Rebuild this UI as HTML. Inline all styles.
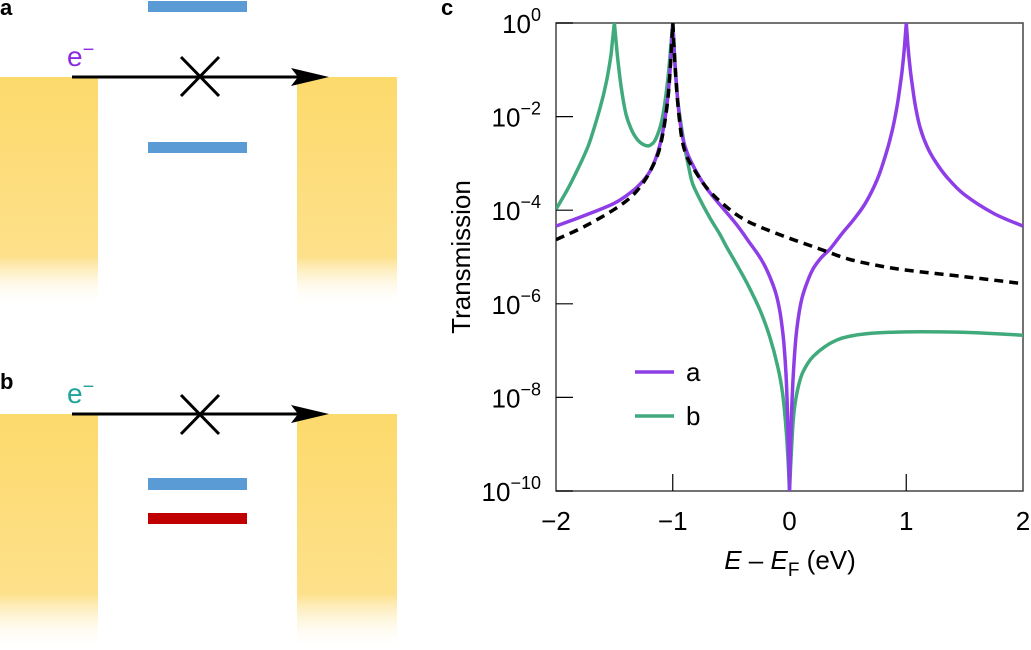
<!DOCTYPE html>
<html><head><meta charset="utf-8"><style>
html,body{margin:0;padding:0;background:#fff;width:1031px;height:650px;overflow:hidden}
svg{display:block;font-family:"Liberation Sans",Arial,sans-serif}
</style></head><body>
<svg width="1031" height="650" viewBox="0 0 1031 650">
<defs>
<linearGradient id="ya" x1="0" y1="0" x2="0" y2="1">
<stop offset="0" stop-color="#fdda6c"/><stop offset="0.78" stop-color="#fde08a"/><stop offset="1" stop-color="#fff" stop-opacity="0"/></linearGradient>
<linearGradient id="yb" x1="0" y1="0" x2="0" y2="1">
<stop offset="0" stop-color="#fdda6c"/><stop offset="0.76" stop-color="#fde08a"/><stop offset="1" stop-color="#fff" stop-opacity="0"/></linearGradient>
</defs>
<g>
<text x="0" y="15" font-size="22" font-weight="bold">a</text>
<rect x="0" y="77" width="98" height="230" fill="url(#ya)"/>
<rect x="297" y="77" width="100" height="230" fill="url(#ya)"/>
<rect x="148" y="1" width="99" height="11" fill="#5b9bd5"/>
<rect x="148" y="142" width="99" height="11" fill="#5b9bd5"/>
<line x1="72" y1="77" x2="300" y2="77" stroke="#000" stroke-width="3"/>
<polygon points="329,77 291,68 298,77 291,86" fill="#000"/>
<path d="M181,57 L219,96 M219,57 L181,96" stroke="#000" stroke-width="3"/>
<text x="67" y="66" font-size="28" fill="#8b2be2">e<tspan dy="-10" font-size="20">−</tspan></text>
</g>
<g>
<text x="0" y="389" font-size="22" font-weight="bold">b</text>
<rect x="0" y="414" width="98" height="236" fill="url(#yb)"/>
<rect x="297" y="414" width="100" height="236" fill="url(#yb)"/>
<rect x="148" y="478" width="99" height="12" fill="#5b9bd5"/>
<rect x="148" y="513" width="99" height="11" fill="#c00000"/>
<line x1="72" y1="414" x2="300" y2="414" stroke="#000" stroke-width="3"/>
<polygon points="329,414 291,405 298,414 291,423" fill="#000"/>
<path d="M181,395 L219,434 M219,395 L181,434" stroke="#000" stroke-width="3"/>
<text x="67" y="403" font-size="28" fill="#1fa39a">e<tspan dy="-10" font-size="20">−</tspan></text>
</g>
<text x="441" y="15" font-size="22" font-weight="bold">c</text>
<g id="chart"></g>
</svg>
<script>
const xTicks=[-2,-1,0,1,2];
const xTickLabels=["−2","−1","0","1","2"];
const yTicks=[0,-2,-4,-6,-8,-10];
const yTickLabels=["0","−2","−4","−6","−8","−10"];
const xA=[-2,-1.75,-1.5,-1.35,-1.25,-1.18,-1.12,-1.08,-1.05,-1.03,-1.015,-1,-0.985,-0.97,-0.95,-0.92,-0.88,-0.85,-0.77,-0.68,-0.535,-0.44,-0.34,-0.26,-0.19,-0.12,-0.08,-0.05,-0.03,-0.015,0,0.015,0.035,0.06,0.1,0.15,0.2,0.27,0.35,0.45,0.55,0.65,0.75,0.82,0.88,0.92,0.95,0.97,0.985,1,1.015,1.03,1.05,1.08,1.12,1.18,1.25,1.35,1.5,1.75,2];
const logA=[-4.34,-4.11,-3.85,-3.6,-3.36,-3.1,-2.7,-2.25,-1.75,-1.25,-0.7,0,-0.7,-1.25,-1.85,-2.4,-2.75,-2.93,-3.3,-3.63,-4.06,-4.35,-4.7,-4.98,-5.3,-5.75,-6.2,-6.8,-7.5,-8.5,-10,-8.5,-7.4,-6.6,-5.95,-5.55,-5.26,-5.02,-4.82,-4.5,-4.2,-3.85,-3.35,-2.85,-2.3,-1.8,-1.3,-0.9,-0.5,0,-0.5,-0.9,-1.3,-1.8,-2.25,-2.65,-2.96,-3.3,-3.67,-4.07,-4.34];
const xB=[-2,-1.9,-1.8,-1.72,-1.65,-1.6,-1.56,-1.53,-1.515,-1.5,-1.485,-1.47,-1.44,-1.4,-1.35,-1.3,-1.25,-1.2,-1.15,-1.1,-1.07,-1.04,-1.02,-1.008,-1,-0.99,-0.975,-0.955,-0.93,-0.9,-0.86,-0.827,-0.75,-0.68,-0.6,-0.535,-0.45,-0.36,-0.25,-0.17,-0.1,-0.06,-0.035,-0.015,0,0.015,0.035,0.06,0.1,0.15,0.2,0.3,0.4,0.5,0.7,1,1.3,1.6,2];
const logB=[-3.98,-3.55,-3.05,-2.6,-2.05,-1.6,-1.15,-0.7,-0.35,0,-0.4,-0.8,-1.4,-1.95,-2.3,-2.5,-2.6,-2.62,-2.5,-2.15,-1.75,-1.15,-0.6,-0.25,0,-0.45,-1.15,-1.7,-2.15,-2.62,-3.12,-3.45,-3.85,-4.17,-4.5,-4.8,-5.17,-5.58,-6.15,-6.7,-7.35,-7.9,-8.5,-9.2,-10,-9.2,-8.4,-7.95,-7.55,-7.3,-7.13,-6.92,-6.78,-6.7,-6.63,-6.6,-6.6,-6.62,-6.67];
const xD=[-2,-1.75,-1.5,-1.35,-1.25,-1.18,-1.12,-1.08,-1.05,-1.03,-1.015,-1,-0.985,-0.97,-0.95,-0.92,-0.88,-0.83,-0.7,-0.54,-0.4,-0.25,0,0.25,0.5,0.75,1,1.5,2];
const logD=[-4.63,-4.34,-3.98,-3.7,-3.4,-3.1,-2.75,-2.3,-1.8,-1.3,-0.7,0,-0.7,-1.3,-1.9,-2.5,-2.85,-3.08,-3.55,-3.93,-4.18,-4.36,-4.6,-4.82,-5.04,-5.18,-5.28,-5.42,-5.57];

const L=556,R=1023,T=23,B=491;
const sx=v=>L+(v+2)/4*(R-L);
const sy=v=>T+(0-v)/10*(B-T);
const NS="http://www.w3.org/2000/svg";
const g=document.getElementById('chart');
function mk(t,a){const e=document.createElementNS(NS,t);for(const k in a)e.setAttribute(k,a[k]);g.appendChild(e);return e;}
function pathFrom(xs,ys){
  const p=xs.map((x,i)=>[sx(x),sy(ys[i])]);
  let d="M"+p[0][0].toFixed(1)+","+p[0][1].toFixed(1);
  for(let i=0;i<p.length-1;i++){
    const p0=p[Math.max(0,i-1)],p1=p[i],p2=p[i+1],p3=p[Math.min(p.length-1,i+2)];
    const t=1/6;
    let c1=[p1[0]+(p2[0]-p0[0])*t,p1[1]+(p2[1]-p0[1])*t];
    let c2=[p2[0]-(p3[0]-p1[0])*t,p2[1]-(p3[1]-p1[1])*t];
    if(ys[i]===0||ys[i]===-10)c1=[p1[0]+(p2[0]-p1[0])*0.3,p1[1]+(p2[1]-p1[1])*0.3];
    if(ys[i+1]===0||ys[i+1]===-10)c2=[p2[0]-(p2[0]-p1[0])*0.3,p2[1]-(p2[1]-p1[1])*0.3];
    d+=" C"+c1.map(v=>v.toFixed(1))+" "+c2.map(v=>v.toFixed(1))+" "+p2[0].toFixed(1)+","+p2[1].toFixed(1);
  }
  return d;
}
const clip=mk('clipPath',{id:'pc'});
const cr=document.createElementNS(NS,'rect');cr.setAttribute('x',L);cr.setAttribute('y',T);cr.setAttribute('width',R-L);cr.setAttribute('height',B-T);clip.appendChild(cr);

const fr=mk('rect',{x:L,y:T,width:R-L,height:B-T,fill:'none',stroke:'#444','stroke-width':1.5});



yTicks.forEach((v,i)=>{
  const tk=mk('line',{x1:L,x2:L+17,y1:sy(v),y2:sy(v),stroke:'#000','stroke-width':1.2});
  
  
  const tx=mk('text',{x:541,y:sy(v)+10,'font-size':26,'text-anchor':'end'});
  
  
  tx.innerHTML='10<tspan dy="-12" font-size="18">'+yTickLabels[i]+'</tspan>';
});
xTicks.forEach((v,i)=>{
  if(i>0&&i<xTicks.length-1){
    const tk=mk('line',{x1:sx(v),x2:sx(v),y1:B,y2:B-17,stroke:'#000','stroke-width':1.2});
    
    
  }
  const tx=mk('text',{x:sx(v),y:530,'font-size':26,'text-anchor':'middle'});
  
  
  tx.textContent=xTickLabels[i];
});
const yt=mk('text',{x:0,y:0,'font-size':26,'text-anchor':'middle',transform:'translate(470,257) rotate(-90)'});


yt.textContent='Transmission';
const xt=mk('text',{x:790,y:569,'font-size':26,'text-anchor':'middle'});


xt.innerHTML='<tspan font-style="italic">E</tspan> – <tspan font-style="italic">E</tspan><tspan dy="7" font-size="19">F</tspan><tspan dy="-7"> (eV)</tspan>';

const pb=mk('path',{d:pathFrom(xB,logB),fill:'none',stroke:'#41aa7c','stroke-width':3.5,'clip-path':'url(#pc)'});


const pa=mk('path',{d:pathFrom(xA,logA),fill:'none',stroke:'#8e3ee6','stroke-width':3.5,'clip-path':'url(#pc)'});


const pd=mk('path',{d:pathFrom(xD,logD),fill:'none',stroke:'#000','stroke-width':3.5,'stroke-dasharray':'9,6','clip-path':'url(#pc)'});



const la=mk('line',{x1:635,x2:674,y1:372,y2:372,stroke:'#8e3ee6','stroke-width':3.5});


const lat=mk('text',{x:686,y:381,'font-size':26});


lat.textContent='a';
const lb=mk('line',{x1:635,x2:674,y1:416,y2:416,stroke:'#41aa7c','stroke-width':3.5});


const lbt=mk('text',{x:686,y:425,'font-size':26});


lbt.textContent='b';
</script>
</body></html>
